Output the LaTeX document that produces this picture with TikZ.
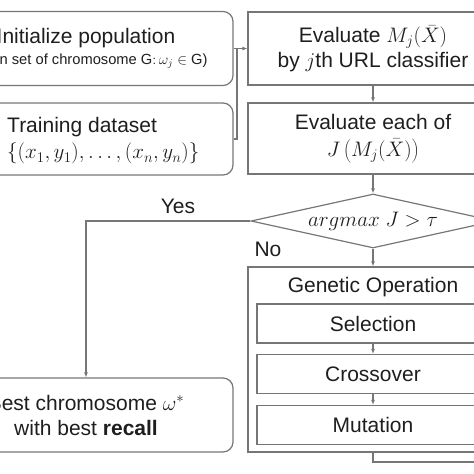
\RequirePackage{fix-cm}
\documentclass[tikz,border=0pt]{standalone}
\usepackage{fontspec}
\setmainfont{Liberation Sans}
\usetikzlibrary{calc,shapes.geometric,arrows.meta}
\usepackage{xcolor}
\definecolor{lGray}{HTML}{767676}
\definecolor{tDark}{HTML}{1E1E1E}

\begin{document}
\begin{tikzpicture}[x=1pt,y=-1pt]
    \pgfmathsetmacro{\wl}{294}	%left column
    \pgfmathsetmacro{\wr}{250}	%right column
    \pgfmathsetmacro{\wi}{232}	%inner boxes

    \tikzset{
        base/.style={draw=lGray, line width=1.2pt, text=tDark, align=center, inner sep=0pt, font=\fontsize{21}{25}\selectfont},
        lbox/.style={base, rounded corners=10pt, minimum width=\wl, minimum height=74},
        rbox/.style={base, minimum width=\wr, minimum height=72},
        ibox/.style={base, minimum width=\wi, minimum height=39},
        lab/.style={text=tDark, inner sep=0pt, font=\fontsize{21}{25}\selectfont},
        line/.style={draw=lGray, line width=1.2pt},
        arr/.style={line, -{Latex[length=5pt,width=4pt]}}
    }
    \clip (0,0) rectangle (474,474);

    \node[lbox] (Init) at (86,48.5) {Initialize population\\[-4pt]{\fontsize{14.7}{17}\selectfont (Given set of chromosome $\mathrm{G}\colon \omega_j \in \mathrm{G}$)}};
    \node[lbox, minimum height=72] (Train) at (86,139) {};
    \node[lab, align=left, anchor=west] (TrainT) at (7,141) {Training dataset\\[1pt]$\{(x_1,y_1),\ldots,(x_n,y_n)\}$};
    \node[lbox] (Best) at (86,415) {Best chromosome $\omega^*$\\with best \textbf{recall}};

    \node[rbox, minimum height=73] (Eval) at (373,48.5) {Evaluate $M_j(\bar{X})$\\by $j$th URL classifier};
    \node[rbox, minimum height=71] (EvalJ) at (373,138.5) {Evaluate each of\\[2pt]$J\left(M_j(\bar{X})\right)$};
    \node[base, diamond, aspect=4.5, minimum width=244, minimum height=54] (Dec) at (373,221) {$argmax\ J > \tau$};

    \node[rbox, minimum height=185] (Gen) at (373,359.5) {};
    \node[lab] (GenT) at (373,287) {Genetic Operation};
    \node[ibox] (Sel) at (373,323.5) {Selection};
    \node[ibox] (Cross) at (373,374) {Crossover};
    \node[ibox] (Mut) at (373,425) {Mutation};

    \node[lab] (Yes) at (178,206) {Yes};
    \node[lab] (No) at (268,249) {No};

    \coordinate (J) at (237,48.5);
    \coordinate (L) at (480,462);

    \draw[arr] (Init.east) -- (Init.east -| Eval.west);
    \draw[line] (Train.east) -| (J);
    \draw[arr] (Eval.south) -- (EvalJ.north);
    \draw[arr] (EvalJ.south) -- (Dec.north);
    \draw[arr] (Dec.west) -| (Best.north);
    \draw[arr] (Dec.south) -- (Gen.north);
    \draw[arr] (Sel.south) -- (Cross.north);
    \draw[arr] (Cross.south) -- (Mut.north);
    \draw[line] (Gen.south) |- (L);
\end{tikzpicture}
\end{document}
